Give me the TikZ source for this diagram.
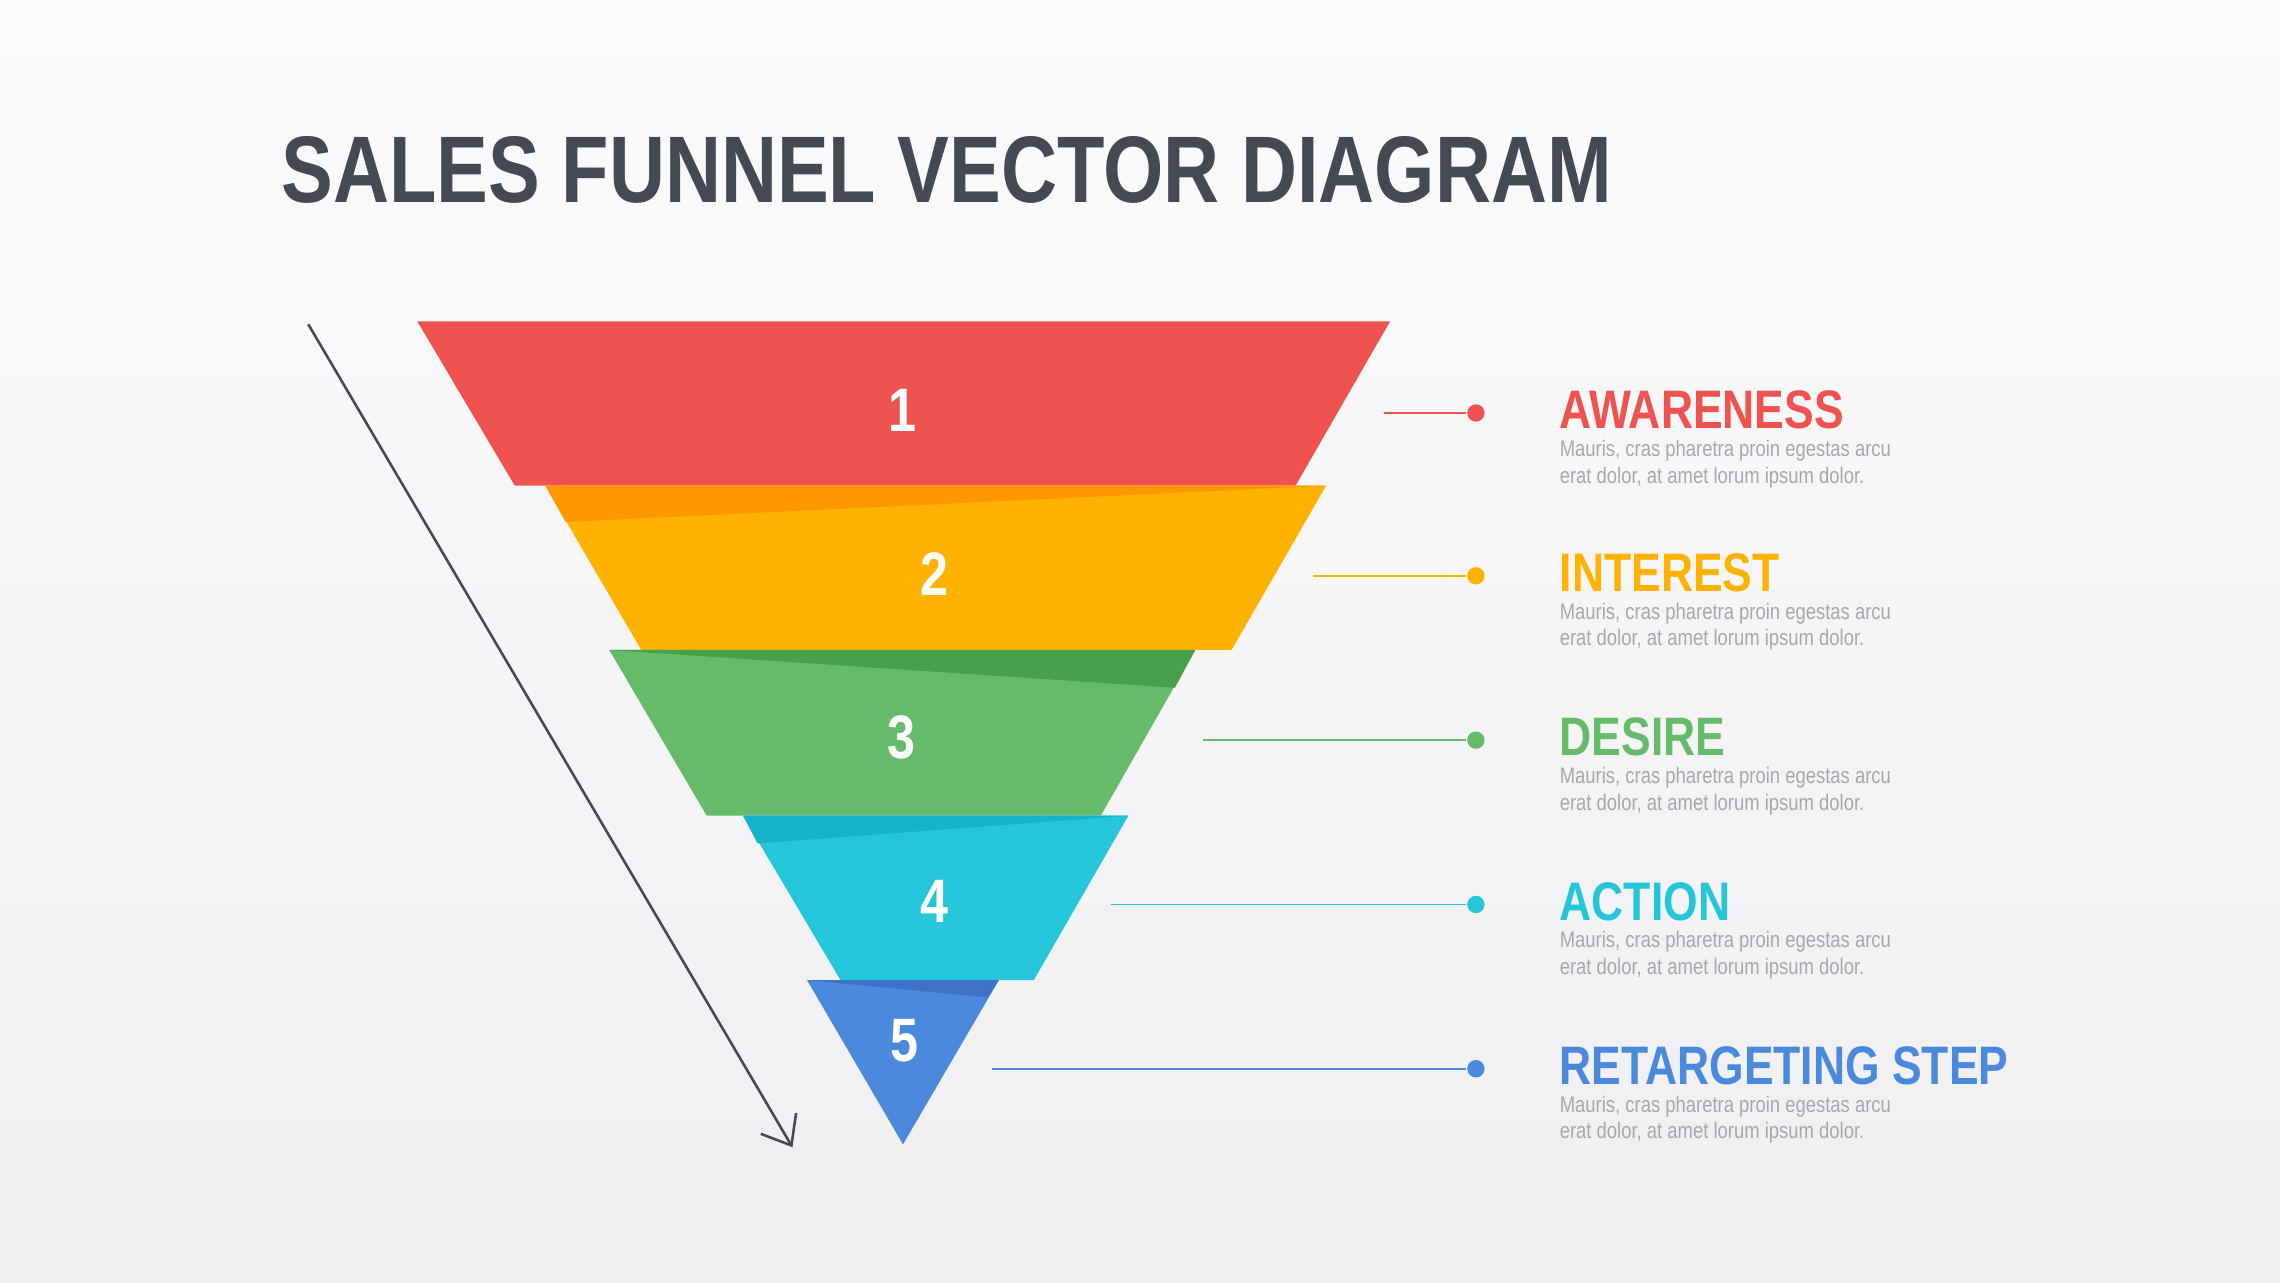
\documentclass[tikz,border=0pt]{standalone}
\usepackage{fontspec}
\setmainfont{Liberation Sans}
\newfontfamily\condb[FakeStretch=0.82]{Liberation Sans}
\usetikzlibrary{arrows.meta}
\definecolor{bgA}{HTML}{FBFBFC}\definecolor{bgB}{HTML}{EFEEF1}
\definecolor{ttl}{HTML}{434A54}\definecolor{body}{HTML}{A8A8AC}
\definecolor{cR}{HTML}{EF534F}
\definecolor{cO}{HTML}{FFB300}\definecolor{dO}{HTML}{FF9800}
\definecolor{cG}{HTML}{66BB6A}\definecolor{dG}{HTML}{47A04B}
\definecolor{cC}{HTML}{26C6DA}\definecolor{dC}{HTML}{19B2CB}
\definecolor{cB}{HTML}{4A89DC}\definecolor{dB}{HTML}{3F72C6}
\tikzset{num/.style={text=white,font=\condb\bfseries\fontsize{12}{12}\selectfont},
lbl/.style={anchor=west,font=\condb\bfseries\fontsize{10.6}{11}\selectfont,inner sep=0},
bdy/.style={anchor=north west,text=body,align=left,font=\condb\fontsize{4.4}{5.2}\selectfont,inner sep=0},
ln/.style={line width=0.35pt},dot/.style={circle,inner sep=0,minimum size=3.4pt}}
\begin{document}
\begin{tikzpicture}[x=0.01cm,y=-0.01cm]
\shade[top color=bgA,bottom color=bgB] (0,0) rectangle (1568,882);
\useasboundingbox (0,0) rectangle (1568,882);
\node[anchor=west,text=ttl,inner sep=0,font=\condb\bfseries\fontsize{18.5}{19}\selectfont] (title) at (193,117) {SALES FUNNEL VECTOR DIAGRAM};
\fill[cR] (287,221)--(956,221)--(891,334)--(354,334)--cycle;
\fill[cO] (375,334)--(912,334)--(847,447)--(441,447)--cycle;
\fill[dO] (375,334)--(912,334)--(389,359)--cycle;
\fill[cG] (419,447)--(822,447)--(757,561)--(486,561)--cycle;
\fill[dG] (419,447)--(822,447)--(808,473)--cycle;
\fill[cC] (511,561)--(776,561)--(711,674)--(578,674)--cycle;
\fill[dC] (511,561)--(776,561)--(521,580)--cycle;
\fill[cB] (555,674)--(687,674)--(621,787)--cycle;
\fill[dB] (555,674)--(687,674)--(679,686)--cycle;
\node[num] (n1) at (621,282) {1};
\node[num] (n2) at (643,395) {2};
\node[num] (n3) at (620,507) {3};
\node[num] (n4) at (643,620) {4};
\node[num] (n5) at (622,716) {5};
\coordinate (a0) at (212,223); \coordinate (a1) at (545,789);
\draw[ttl,line width=0.5pt,-{Straight Barb[length=5pt,width=8pt]}] (a0)--(a1);
\foreach \i/\xs/\yy/\c/\t in {1/952/284/cR/AWARENESS,2/903/396/cO/INTEREST,3/827/509/cG/DESIRE,4/764/622/cC/ACTION,5/682/735/cB/RETARGETING STEP}{
 \coordinate (s\i) at (\xs,\yy);
 \node[dot,fill=\c] (d\i) at (1015,\yy) {};
 \draw[ln,\c] (s\i)--(d\i);
 \node[lbl,text=\c] (l\i) at (1072,\yy-2) {\t};
 \node[bdy] (b\i) at (1072,\yy+18) {Mauris, cras pharetra proin egestas arcu\\erat dolor, at amet lorum ipsum dolor.};
}
\end{tikzpicture}
\end{document}
